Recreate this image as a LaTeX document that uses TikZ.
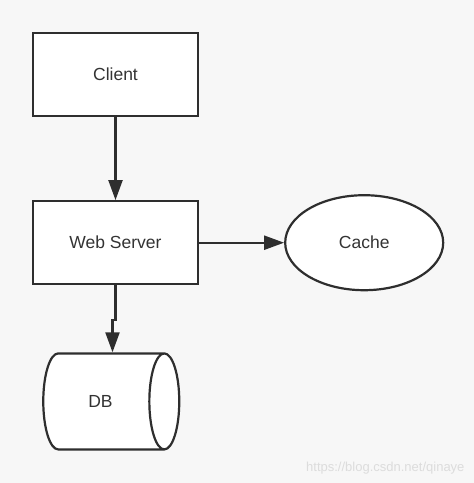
\documentclass[tikz,border=0pt]{standalone}
\usepackage{fontspec}
\setmainfont{Liberation Sans}
\usetikzlibrary{shapes.geometric,arrows.meta,positioning}
\definecolor{bggray}{HTML}{F7F7F7}
\definecolor{inkgray}{HTML}{2E2E2E}
\definecolor{textgray}{HTML}{333333}
\definecolor{markgray}{HTML}{DCDCDC}
\begin{document}
\begin{tikzpicture}[
    x=1pt, y=-1pt,
    node distance=83pt and 85pt,
    block/.style={
      rectangle, draw=inkgray, line width=2.2pt, fill=white,
      minimum width=165pt, minimum height=83pt,
      text=textgray, font=\fontsize{17.5}{20}\selectfont
    },
    store/.style={
      ellipse, draw=inkgray, line width=2.2pt, fill=white,
      minimum width=158pt, minimum height=95pt,
      text=textgray, font=\fontsize{17.5}{20}\selectfont
    },
    disk/.style={
      cylinder, draw=inkgray, line width=2.2pt, fill=white,
      minimum width=96pt, minimum height=136pt, aspect=1.6,
      text=textgray, font=\fontsize{17.5}{20}\selectfont
    },
    link/.style={-{Triangle[length=20pt, width=14pt]}, draw=inkgray, line width=2.2pt}
  ]
  \fill[bggray] (0,0) rectangle (474,483);
  \node[block] (client) at (115.5,74.5) {Client};
  \node[block, below=of client] (web) {Web Server};
  \node[store, right=of web] (cache) {Cache};
  \node[disk, below=67pt of web, xshift=-15pt] (db) {DB};
  \node[anchor=south east, text=markgray, font=\fontsize{13}{15}\selectfont] (mark) at (468,478) {https://blog.csdn.net/qinaye};
  \draw[link] (client) -- (web);
  \draw[link] (web) -- (cache);
  \draw[link] (web.south) -- ++(0,35) coordinate (jog) -| ([xshift=12pt]db.north);
\end{tikzpicture}
\end{document}
